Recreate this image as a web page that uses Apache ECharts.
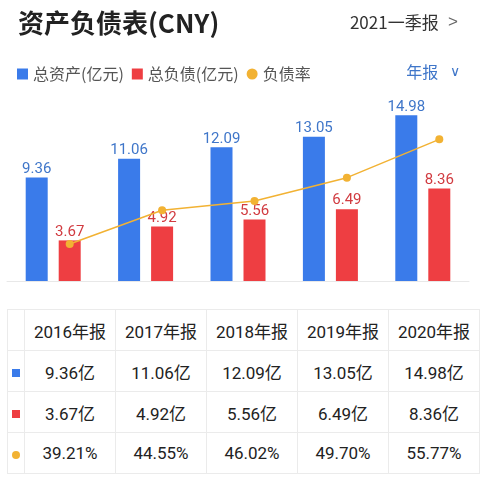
<!DOCTYPE html>
<html>
<head>
<meta charset="utf-8">
<script src="https://cdn.jsdelivr.net/npm/echarts@6/dist/echarts.min.js"></script>
<style>
  body { margin: 0; background: #fff; font-family: Roboto, 'Noto Sans CJK SC', sans-serif; }
  #chart { position: absolute; left: 0; top: 0; width: 487px; height: 300px; }
  #tbl { position: absolute; left: 7px; top: 309px; border-collapse: collapse; }
  #tbl td { border: 1px solid #ebebeb; height: 40px; padding: 0; text-align: center;
            font-size: 17px; color: #222; width: 90px; }
  #tbl td.k { width: 16px; }
  .mk { display: inline-block; width: 8px; height: 8px; }
</style>
</head>
<body>
<div id="chart"></div>
<table id="tbl"></table>
<script>
// 数据
var years = ['2016年报', '2017年报', '2018年报', '2019年报', '2020年报'];
var totalAssets = [9.36, 11.06, 12.09, 13.05, 14.98];
var totalDebt = [3.67, 4.92, 5.56, 6.49, 8.36];
var debtRatio = [39.21, 44.55, 46.02, 49.70, 55.77];

var blue = '#3a7bea', red = '#ee3e42', yellow = '#f2b233';
var cjk = "'Noto Sans CJK SC', sans-serif";
var numFont = "Roboto, sans-serif";

var chart = echarts.init(document.getElementById('chart'));
chart.setOption({
  animation: false,
  title: [
    {
      text: '资产负债表(CNY)', left: 13, top: 5,
      textStyle: { fontSize: 26, fontWeight: 'bold', color: '#222', fontFamily: cjk }
    },
    {
      text: '{a|2021一季报}{b|  >}', right: 24, top: 9,
      textStyle: { rich: {
        a: { fontSize: 17, fontWeight: 'normal', color: '#333', fontFamily: cjk },
        b: { fontSize: 17, fontWeight: 'normal', color: '#666' }
      } }
    },
    {
      text: '{a|年报}{b|   ∨}', right: 22, top: 59,
      textStyle: { rich: {
        a: { fontSize: 16, fontWeight: 'normal', color: '#3f76c9', fontFamily: cjk },
        b: { fontSize: 14, fontWeight: 'normal', color: '#3f76c9' }
      } }
    }
  ],
  legend: {
    left: 12, top: 61, itemWidth: 11, itemHeight: 11, itemGap: 8,
    textStyle: { fontSize: 16, color: '#555', fontFamily: cjk },
    data: [
      { name: '总资产(亿元)', icon: 'rect' },
      { name: '总负债(亿元)', icon: 'rect' },
      { name: '负债率', icon: 'circle' }
    ]
  },
  grid: [
    { left: 7, right: 18, top: 104, bottom: 19 },
    // 折线点落在红色柱中心，网格右移半个柱距
    { left: 23.5, right: 1.5, top: 104, bottom: 19 }
  ],
  xAxis: [
    {
      type: 'category', data: years, gridIndex: 0,
      axisLine: { lineStyle: { color: '#e8e8e8' } },
      axisTick: { show: false }, axisLabel: { show: false }
    },
    { type: 'category', data: years, gridIndex: 1, show: false }
  ],
  yAxis: [
    { type: 'value', min: 0, max: 16, show: false, gridIndex: 0 },
    { type: 'value', min: 33.35, max: 61.36, show: false, gridIndex: 1 }
  ],
  series: [
    {
      name: '总资产(亿元)', type: 'bar', data: totalAssets, barWidth: 22, barGap: '50%',
      itemStyle: { color: blue },
      label: { show: true, position: 'top', distance: 1, color: '#3f76c9', fontSize: 15, fontFamily: numFont }
    },
    {
      name: '总负债(亿元)', type: 'bar', data: totalDebt, barWidth: 22,
      itemStyle: { color: red },
      label: { show: true, position: 'top', distance: 1, color: '#d13b40', fontSize: 15, fontFamily: numFont }
    },
    {
      name: '负债率', type: 'line', xAxisIndex: 1, yAxisIndex: 1, data: debtRatio,
      symbol: 'circle', symbolSize: 8, z: 5,
      lineStyle: { color: yellow, width: 1.5 }, itemStyle: { color: yellow }
    }
  ]
});

// 表格
var tbl = document.getElementById('tbl');
var rows = [
  { mark: '', cells: years },
  { mark: '<span class="mk" style="background:' + blue + '"></span>', cells: totalAssets.map(function (v) { return v.toFixed(2) + '亿'; }) },
  { mark: '<span class="mk" style="background:' + red + '"></span>', cells: totalDebt.map(function (v) { return v.toFixed(2) + '亿'; }) },
  { mark: '<span class="mk" style="background:' + yellow + ';border-radius:50%"></span>', cells: debtRatio.map(function (v) { return v.toFixed(2) + '%'; }) }
];
rows.forEach(function (r) {
  var tr = document.createElement('tr');
  var html = '<td class="k">' + r.mark + '</td>';
  r.cells.forEach(function (c) { html += '<td>' + c + '</td>'; });
  tr.innerHTML = html;
  tbl.appendChild(tr);
});
</script>
</body>
</html>
